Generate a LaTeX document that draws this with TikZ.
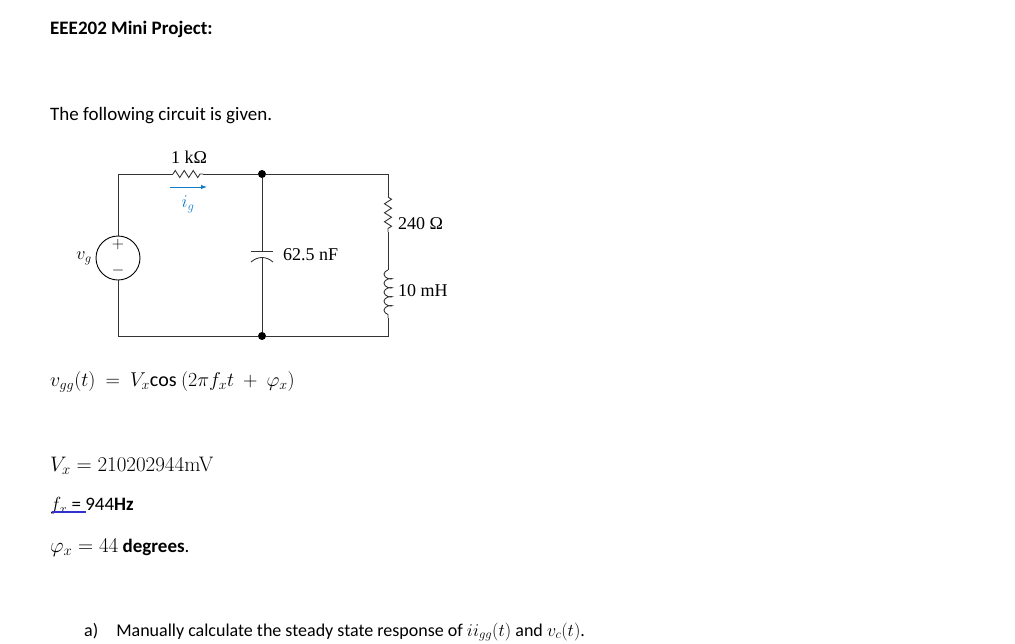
\documentclass[tikz,border=0pt]{standalone}
\usepackage{fix-cm}
\usepackage{fontspec}
\setmainfont{Carlito}
\newfontfamily\serif{Liberation Serif}
\newfontfamily\lmserif{Latin Modern Roman}
\usetikzlibrary{decorations.pathmorphing,arrows.meta}
\begin{document}
\begin{tikzpicture}[x=1pt,y=-1pt,
  wire/.style={line width=0.9pt,black!80},
  lbl/.style={inner sep=0,font=\fontsize{18}{18}\selectfont\serif},
  txt/.style={anchor=west,inner sep=0,font=\fontsize{19}{19}\selectfont},
  dot/.style={circle,fill=black,inner sep=0,minimum size=8}]
\useasboundingbox (0,0) rectangle (1015,643);
\node[txt] (title) at (50,29) {\textbf{EEE202 Mini Project:}};
\node[txt] (intro) at (50,116) {The following circuit is given.};
\coordinate (tl) at (118,174); \coordinate (bl) at (118,336);
\node[dot] (tm) at (262,174) {}; \node[dot] (bm) at (262,336) {};
\coordinate (tr) at (388,174); \coordinate (br) at (388,336);
\node[circle,draw,line width=0.9pt,minimum size=44,inner sep=0] (src) at (118,258) {};
\node[font=\fontsize{16}{16}\selectfont] at (118,244) {$+$};
\node[font=\fontsize{16}{16}\selectfont] at (118,270) {$-$};
\node[lbl,anchor=east] (vg) at (92,258) {$v_g$};
\draw[wire] (src.north) -- (tl) -- (173,174);
\draw[wire,decorate,decoration={zigzag,segment length=9,amplitude=3.5}] (173,174) -- (203,174);
\draw[wire] (203,174) -- (tm) -- (tr) -- (388,197);
\draw[wire,decorate,decoration={zigzag,segment length=9,amplitude=3.5}] (388,197) -- (388,232);
\draw[wire] (388,232) -- (388,270);
\draw[wire,decorate,decoration={coil,aspect=0.5,segment length=9,amplitude=4,mirror}] (388,270) -- (388,318);
\draw[wire] (388,318) -- (br) -- (bm) -- (bl) -- (src.south);
\draw[wire] (tm) -- (262,251);
\draw[wire] (251,251) -- (273,251);
\draw[wire] (251,262) .. controls (258,256) and (266,256) .. (273,262);
\draw[wire] (262,258) -- (bm);
\node[lbl] (r1) at (189,157) {1 kΩ};
\draw[-{Latex[length=6]},line width=1pt,cyan!60!blue] (170,187) -- (207,187);
\node[lbl,text=cyan!60!blue] (ig) at (188,204) {$i_g$};
\node[lbl,anchor=west] (r2) at (398,224) {240 Ω};
\node[lbl,anchor=west] (c) at (283,255) {62.5 nF};
\node[lbl,anchor=west] (l) at (398,291) {10 mH};
\node[txt,font=\fontsize{20}{20}\selectfont] (eq) at (50,382) {$v_{gg}(t)\ =\ V_x\mathrm{cos}\ (2\pi f_x t\ +\ \varphi_x)$};
\node[txt,font=\fontsize{21}{21}\selectfont] (vx) at (50,466) {$V_x = 210202944${\lmserif mV}};
\node[txt] (fx) at (50,506) {$f_x$ = 944\textbf{Hz}};
\draw[line width=2pt,blue!60!gray] (52,512) -- (86,512);
\node[txt] (ph) at (50,548) {{\fontsize{21}{21}\selectfont$\varphi_x = 44$} \textbf{degrees}.};
\node[txt,font=\fontsize{18}{18}\selectfont] (qa) at (84,632) {a)\quad Manually calculate the steady state response of $ii_{gg}(t)$ and $v_c(t)$.};
\end{tikzpicture}
\end{document}
